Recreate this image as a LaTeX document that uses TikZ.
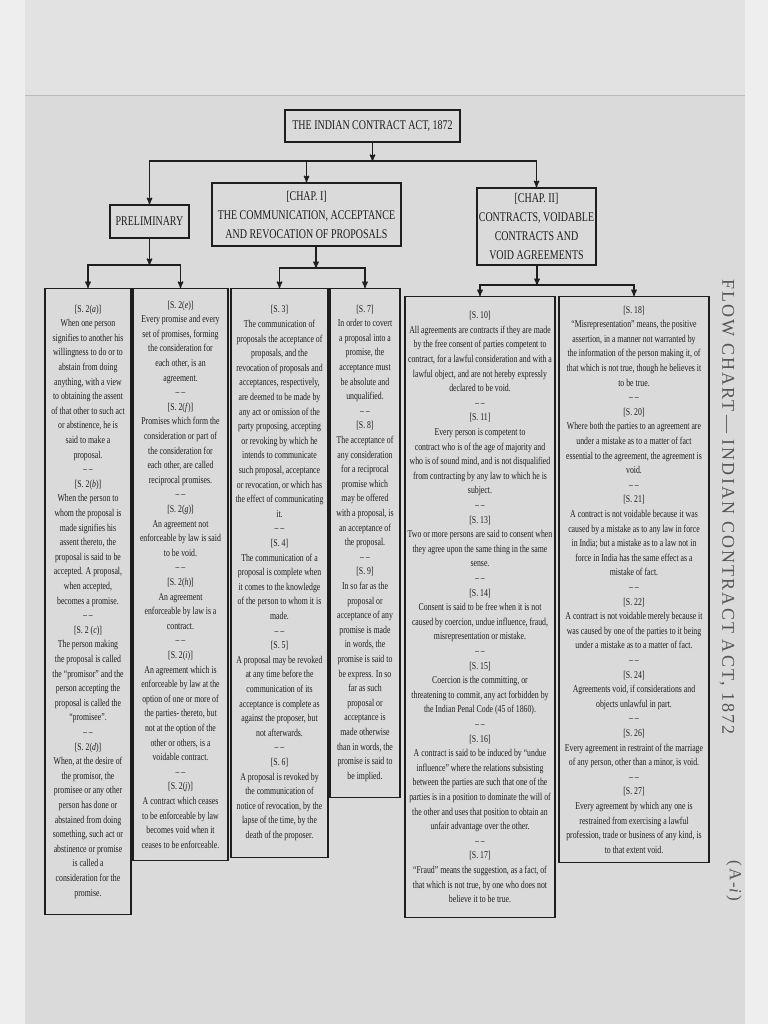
\documentclass[tikz,border=0pt]{standalone}
\usepackage{fontspec}
\setmainfont{Liberation Serif}[FakeStretch=0.75]
\newfontfamily\runfont{Liberation Serif}[LetterSpace=12,Ligatures=TeX]
\usepackage{tikz}
\usetikzlibrary{positioning, arrows.meta, arrows}

\definecolor{ink}{HTML}{1E1E1E}
\definecolor{paper}{HTML}{DADADA}
\definecolor{margin}{HTML}{EEEEEE}
\newcommand{\secno}[1]{[S.\ #1]}
\newcommand{\dashrow}{--\,--}

\begin{document}
\begin{tikzpicture}[x=1pt,y=-1pt,>=stealth',
    headbox/.style={draw=ink,line width=1.6pt,align=center,text=ink,
        font=\fontsize{13.3}{19}\selectfont,inner sep=2pt},
    colbox/.style={draw=ink,line width=1.3pt,align=center,anchor=north,text=ink,
        font=\fontsize{10.4}{14.6}\selectfont,inner sep=1pt},
    link/.style={->,draw=ink,line width=1.3pt}]

    % page
    \useasboundingbox (0,0) rectangle (768,1024);
    \fill[margin] (0,0) rectangle (768,1024);
    \fill[paper] (25,95) rectangle (745,1024);
    \fill[paper!60!margin] (25,0) rectangle (745,95);
    \draw[ink!30,line width=0.8pt] (25,95) -- (745,95);

    % top of the tree
    \node[headbox,minimum width=175,minimum height=32] (title) at (372.5,126) {THE INDIAN CONTRACT ACT, 1872};
    \node[headbox,minimum width=79,minimum height=33] (prelim) at (149.5,221.5) {PRELIMINARY};
    \node[headbox,minimum width=189,minimum height=63] (chapI) at (306.5,214.5) {[CHAP. I]\\THE COMMUNICATION, ACCEPTANCE\\AND REVOCATION OF PROPOSALS};
    \node[headbox,minimum width=119,minimum height=77] (chapII) at (536.5,226.5) {[CHAP. II]\\CONTRACTS, VOIDABLE\\CONTRACTS AND\\VOID AGREEMENTS};

    \coordinate (j0) at (372.5,161);
    \coordinate (j1) at (149.5,265);
    \coordinate (j2) at (316,268);
    \coordinate (j3) at (537,285);

    % sections
    \node[colbox,minimum width=86,minimum height=626] (defA) at (88,288) {%
        \secno{2(\textit{a})}\\When one person\\signifies to another his\\willingness to do or to\\abstain from doing\\anything, with a view\\to obtaining the assent\\of that other to such act\\or abstinence, he is\\said to make a\\proposal.\\\dashrow\\
        \secno{2(\textit{b})}\\When the person to\\whom the proposal is\\made signifies his\\assent thereto, the\\proposal is said to be\\accepted. A proposal,\\when accepted,\\becomes a promise.\\\dashrow\\
        \secno{2 (\textit{c})}\\The person making\\the proposal is called\\the ``promisor'' and the\\person accepting the\\proposal is called the\\``promisee''.\\\dashrow\\
        \secno{2(\textit{d})}\\When, at the desire of\\the promisor, the\\promisee or any other\\person has done or\\abstained from doing\\something, such act or\\abstinence or promise\\is called a\\consideration for the\\promise.};
    \node[colbox,minimum width=95,minimum height=572] (defB) at (180.5,288) {%
        \secno{2(\textit{e})}\\Every promise and every\\set of promises, forming\\the consideration for\\each other, is an\\agreement.\\\dashrow\\
        \secno{2(\textit{f})}\\Promises which form the\\consideration or part of\\the consideration for\\each other, are called\\reciprocal promises.\\\dashrow\\
        \secno{2(\textit{g})}\\An agreement not\\enforceable by law is said\\to be void.\\\dashrow\\
        \secno{2(\textit{h})}\\An agreement\\enforceable by law is a\\contract.\\\dashrow\\
        \secno{2(\textit{i})}\\An agreement which is\\enforceable by law at the\\option of one or more of\\the parties- thereto, but\\not at the option of the\\other or others, is a\\voidable contract.\\\dashrow\\
        \secno{2(\textit{j})}\\A contract which ceases\\to be enforceable by law\\becomes void when it\\ceases to be enforceable.};
    \node[colbox,minimum width=97,minimum height=569] (commA) at (279.5,288) {%
        \secno{3}\\The communication of\\proposals the acceptance of\\proposals, and the\\revocation of proposals and\\acceptances, respectively,\\are deemed to be made by\\any act or omission of the\\party proposing, accepting\\or revoking by which he\\intends to communicate\\such proposal, acceptance\\or revocation, or which has\\the effect of communicating\\it.\\\dashrow\\
        \secno{4}\\The communication of a\\proposal is complete when\\it comes to the knowledge\\of the person to whom it is\\made.\\\dashrow\\
        \secno{5}\\A proposal may be revoked\\at any time before the\\communication of its\\acceptance is complete as\\against the proposer, but\\not afterwards.\\\dashrow\\
        \secno{6}\\A proposal is revoked by\\the communication of\\notice of revocation, by the\\lapse of the time, by the\\death of the proposer.};
    \node[colbox,minimum width=70,minimum height=509] (commB) at (365,288) {%
        \secno{7}\\In order to covert\\a proposal into a\\promise, the\\acceptance must\\be absolute and\\unqualified.\\\dashrow\\
        \secno{8}\\The acceptance of\\any consideration\\for a reciprocal\\promise which\\may be offered\\with a proposal, is\\an acceptance of\\the proposal.\\\dashrow\\
        \secno{9}\\In so far as the\\proposal or\\acceptance of any\\promise is made\\in words, the\\promise is said to\\be express. In so\\far as such\\proposal or\\acceptance is\\made otherwise\\than in words, the\\promise is said to\\be implied.};
    \node[colbox,minimum width=150,minimum height=621] (contA) at (480,296) {%
        \secno{10}\\All agreements are contracts if they are made\\by the free consent of parties competent to\\contract, for a lawful consideration and with a\\lawful object, and are not hereby expressly\\declared to be void.\\\dashrow\\
        \secno{11}\\Every person is competent to\\contract who is of the age of majority and\\who is of sound mind, and is not disqualified\\from contracting by any law to which he is\\subject.\\\dashrow\\
        \secno{13}\\Two or more persons are said to consent when\\they agree upon the same thing in the same\\sense.\\\dashrow\\
        \secno{14}\\Consent is said to be free when it is not\\caused by coercion, undue influence, fraud,\\misrepresentation or mistake.\\\dashrow\\
        \secno{15}\\Coercion is the committing, or\\threatening to commit, any act forbidden by\\the Indian Penal Code (45 of 1860).\\\dashrow\\
        \secno{16}\\A contract is said to be induced by ``undue\\influence'' where the relations subsisting\\between the parties are such that one of the\\parties is in a position to dominate the will of\\the other and uses that position to obtain an\\unfair advantage over the other.\\\dashrow\\
        \secno{17}\\``Fraud'' means the suggestion, as a fact, of\\that which is not true, by one who does not\\believe it to be true.};
    \node[colbox,minimum width=150,minimum height=566] (contB) at (634,296) {%
        \secno{18}\\``Misrepresentation'' means, the positive\\assertion, in a manner not warranted by\\the information of the person making it, of\\that which is not true, though he believes it\\to be true.\\\dashrow\\
        \secno{20}\\Where both the parties to an agreement are\\under a mistake as to a matter of fact\\essential to the agreement, the agreement is\\void.\\\dashrow\\
        \secno{21}\\A contract is not voidable because it was\\caused by a mistake as to any law in force\\in India; but a mistake as to a law not in\\force in India has the same effect as a\\mistake of fact.\\\dashrow\\
        \secno{22}\\A contract is not voidable merely because it\\was caused by one of the parties to it being\\under a mistake as to a matter of fact.\\\dashrow\\
        \secno{24}\\Agreements void, if considerations and\\objects unlawful in part.\\\dashrow\\
        \secno{26}\\Every agreement in restraint of the marriage\\of any person, other than a minor, is void.\\\dashrow\\
        \secno{27}\\Every agreement by which any one is\\restrained from exercising a lawful\\profession, trade or business of any kind, is\\to that extent void.};

    % arrows
    \draw[link] (title) -- (j0);
    \draw[link] (j0) -| (prelim);
    \draw[link] (j0) -| (chapI);
    \draw[link] (j0) -| (chapII);
    \draw[link] (prelim) -- (j1);
    \draw[link] (j1) -| (defA);
    \draw[link] (j1) -| (defB);
    \draw[link] (chapI.south -| j2) -- (j2);
    \draw[link] (j2) -| (commA);
    \draw[link] (j2) -| (commB);
    \draw[link] (chapII.south -| j3) -- (j3);
    \draw[link] (j3) -| (contA);
    \draw[link] (j3) -| (contB);

    % running head
    \node[rotate=-90,text=ink!75,font=\runfont\fontsize{18}{18}\selectfont] (runhead) at (727,507) {FLOW CHART\,\textemdash\ INDIAN CONTRACT ACT, 1872};
    \node[rotate=-90,text=ink!75,font=\runfont\fontsize{17}{17}\selectfont] (folio) at (734,881) {(A-\textit{i})};
\end{tikzpicture}
\end{document}
